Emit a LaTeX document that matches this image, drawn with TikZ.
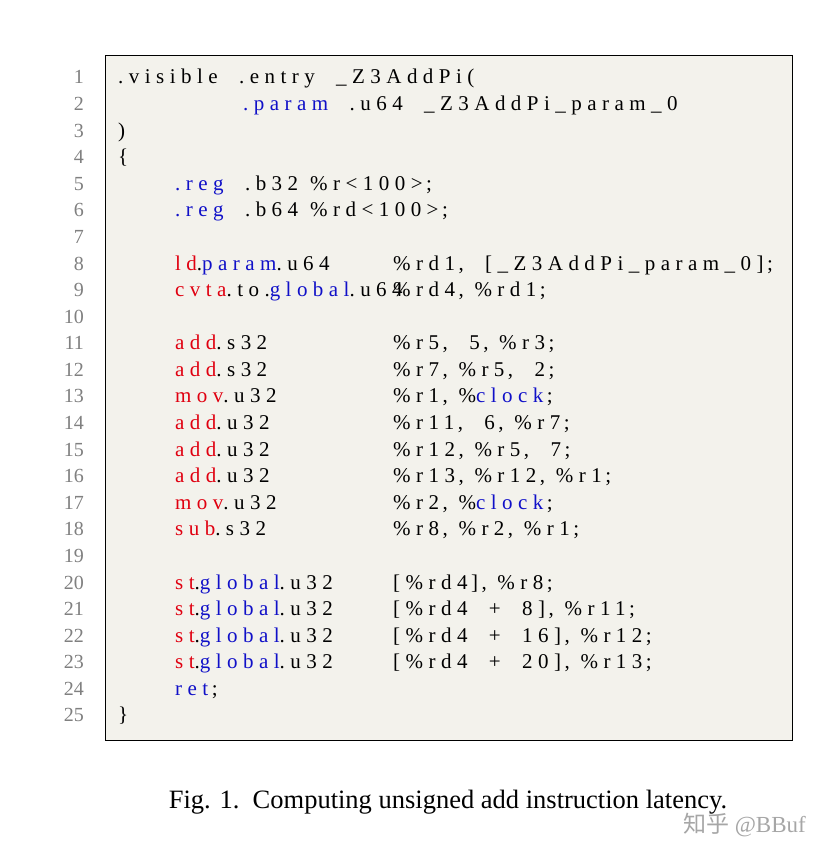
\documentclass[tikz,border=0pt]{standalone}
\usepackage{fontspec}
\setmainfont{Liberation Serif}
\newfontfamily\cjkf{Noto Sans CJK SC}
\definecolor{kwred}{HTML}{E00010}
\definecolor{kwblue}{HTML}{1010C8}
\definecolor{boxbg}{HTML}{F3F2EC}
\newcommand{\R}[1]{\textcolor{kwred}{#1}}
\newcommand{\B}[1]{\textcolor{kwblue}{#1}}
\newcommand{\Cm}{\,,}
\newcommand{\Sc}{\,;}
\tikzset{code/.style={anchor=base west,inner sep=0pt,font=\fontsize{21}{24}\selectfont\addfontfeature{LetterSpace=26}},
 lnum/.style={anchor=base east,inner sep=0pt,text=gray,font=\fontsize{20}{24}\selectfont}}
\newcommand{\Y}[1]{-(84+(#1-1)*26.58)}
\begin{document}
\begin{tikzpicture}[x=1pt,y=1pt]
\useasboundingbox (0,0) rectangle (828,-856);
\draw[fill=boxbg,line width=0.8pt] (105,-55) rectangle (792,-740);
\foreach \n in {1,...,25}{\node[lnum] (n\n) at (84,{\Y{\n}}) {\n};}
\node[code] (c1) at (118,{\Y{1}}) {.visible ~.entry ~\_Z3AddPi(};
\node[code] (c2) at (243,{\Y{2}}) {\B{.param} ~.u64 ~\_Z3AddPi\_param\_0};
\node[code] (c3) at (118,{\Y{3}}) {)};
\node[code] (c4) at (118,{\Y{4}}) {\{};
\node[code] (c5a) at (175,{\Y{5}}) {\B{.reg} ~.b32};
\node[code] (c5b) at (310,{\Y{5}}) {\%r<100>\Sc};
\node[code] (c6a) at (175,{\Y{6}}) {\B{.reg} ~.b64};
\node[code] (c6b) at (310,{\Y{6}}) {\%rd<100>\Sc};
\node[code] (c8a) at (175,{\Y{8}}) {\R{ld}.\B{param}.u64};
\node[code] (c8b) at (393,{\Y{8}}) {\%rd1\Cm{} ~[\_Z3AddPi\_param\_0]\Sc};
\node[code] (c9a) at (175,{\Y{9}}) {\R{cvta}.to.\B{global}.u64};
\node[code] (c9b) at (393,{\Y{9}}) {\%rd4\Cm{} \%rd1\Sc};
\node[code] (c11a) at (175,{\Y{11}}) {\R{add}.s32};
\node[code] (c11b) at (393,{\Y{11}}) {\%r5\Cm{} ~5\Cm{} \%r3\Sc};
\node[code] (c12a) at (175,{\Y{12}}) {\R{add}.s32};
\node[code] (c12b) at (393,{\Y{12}}) {\%r7\Cm{} \%r5\Cm{} ~2\Sc};
\node[code] (c13a) at (175,{\Y{13}}) {\R{mov}.u32};
\node[code] (c13b) at (393,{\Y{13}}) {\%r1\Cm{} \%\B{clock}\Sc};
\node[code] (c14a) at (175,{\Y{14}}) {\R{add}.u32};
\node[code] (c14b) at (393,{\Y{14}}) {\%r11\Cm{} ~6\Cm{} \%r7\Sc};
\node[code] (c15a) at (175,{\Y{15}}) {\R{add}.u32};
\node[code] (c15b) at (393,{\Y{15}}) {\%r12\Cm{} \%r5\Cm{} ~7\Sc};
\node[code] (c16a) at (175,{\Y{16}}) {\R{add}.u32};
\node[code] (c16b) at (393,{\Y{16}}) {\%r13\Cm{} \%r12\Cm{} \%r1\Sc};
\node[code] (c17a) at (175,{\Y{17}}) {\R{mov}.u32};
\node[code] (c17b) at (393,{\Y{17}}) {\%r2\Cm{} \%\B{clock}\Sc};
\node[code] (c18a) at (175,{\Y{18}}) {\R{sub}.s32};
\node[code] (c18b) at (393,{\Y{18}}) {\%r8\Cm{} \%r2\Cm{} \%r1\Sc};
\node[code] (c20a) at (175,{\Y{20}}) {\R{st}.\B{global}.u32};
\node[code] (c20b) at (393,{\Y{20}}) {[\%rd4\,]\Cm{} \%r8\Sc};
\node[code] (c21a) at (175,{\Y{21}}) {\R{st}.\B{global}.u32};
\node[code] (c21b) at (393,{\Y{21}}) {[\%rd4 ~+ ~8]\Cm{} \%r11\Sc};
\node[code] (c22a) at (175,{\Y{22}}) {\R{st}.\B{global}.u32};
\node[code] (c22b) at (393,{\Y{22}}) {[\%rd4 ~+ ~16]\Cm{} \%r12\Sc};
\node[code] (c23a) at (175,{\Y{23}}) {\R{st}.\B{global}.u32};
\node[code] (c23b) at (393,{\Y{23}}) {[\%rd4 ~+ ~20]\Cm{} \%r13\Sc};
\node[code] (c24) at (175,{\Y{24}}) {\B{ret}\Sc};
\node[code] (c25) at (118,{\Y{25}}) {\}};
\node[anchor=base,inner sep=0pt,font=\fontsize{26.5}{30}\selectfont] (cap) at (448,-808) {Fig. 1.~~Computing unsigned add instruction latency.};
\node[anchor=base east,inner sep=0pt,text=gray!70,font=\fontsize{23}{26}\selectfont] (wm) at (806,-832) {{\cjkf 知乎} @BBuf};
\end{tikzpicture}
\end{document}
